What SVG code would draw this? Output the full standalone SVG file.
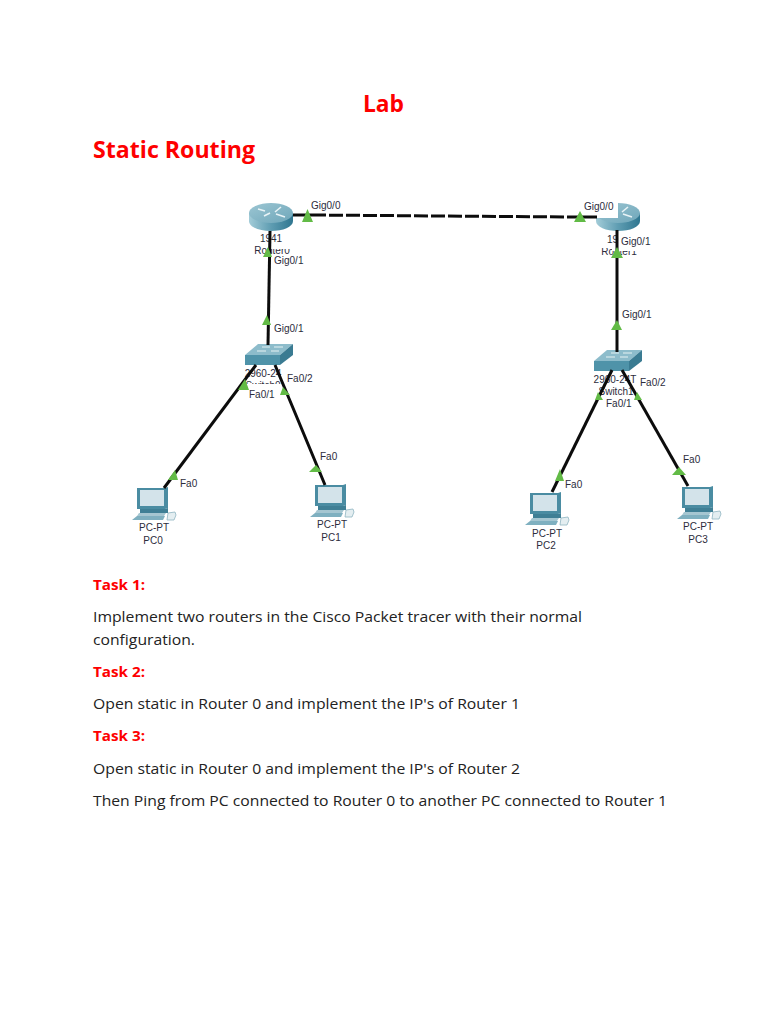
<svg xmlns="http://www.w3.org/2000/svg" width="768" height="1024" viewBox="0 0 768 1024">
<style>
.h{font-family:"Open Sans","Liberation Sans",sans-serif;font-weight:700;fill:#fe0000}
.b{font-family:"Open Sans","Liberation Sans",sans-serif;font-size:14.5px;fill:#222}
.t{font-size:14.5px}
.l{font-family:"Liberation Sans",Arial,sans-serif;font-size:10px;fill:#2c2c3c}
.m{text-anchor:middle}
.w{fill:none;stroke:#0c0c0c;stroke-width:3;stroke-linecap:butt;stroke-linejoin:round}
.a{fill:#62bb46}
</style>
<defs>
<linearGradient id="rg" x1="0" x2="1" y1="0" y2="0"><stop offset="0" stop-color="#a3ccd8"/><stop offset=".5" stop-color="#5f9db2"/><stop offset="1" stop-color="#2f7690"/></linearGradient>
<linearGradient id="rt" x1="0" x2="1" y1="0" y2="1"><stop offset="0" stop-color="#9cc6d3"/><stop offset="1" stop-color="#6ea6b9"/></linearGradient>
<clipPath id="c0"><rect x="240" y="240" width="28" height="20"/><rect x="268" y="249" width="30" height="10"/></clipPath>
<clipPath id="c1"><rect x="590" y="248" width="22" height="12"/><rect x="612" y="251" width="30" height="8"/></clipPath>
<clipPath id="s0"><rect x="240" y="378" width="50" height="6"/></clipPath>
<clipPath id="s1"><rect x="590" y="387" width="50" height="10"/></clipPath>
<symbol id="router" width="44" height="28" viewBox="0 0 44 28" overflow="visible">
<path d="M0 10V18C0 24 10 28 22 28S44 24 44 18V10Z" fill="url(#rg)"/>
<ellipse cx="22" cy="10" rx="22" ry="10" fill="url(#rt)"/>
<path d="M9 6l7 2M15 13l6-3M26 9l6-5M27 11l9 3" stroke="#e8f3f6" stroke-width="1.6" fill="none"/>
</symbol>
<symbol id="switch" width="48" height="21" viewBox="0 0 48 21" overflow="visible">
<path d="M13 0H48L35 11H0Z" fill="#8dbccb"/>
<path d="M0 11H35V21H0Z" fill="#4f93a9"/>
<path d="M35 11L48 0V11L35 21Z" fill="#3a7b92"/>
<path d="M17 3h8M29 3h9M12 7h9M26 7h8" stroke="#e6f1f4" stroke-width="1.2"/>
</symbol>
<symbol id="pc" width="46" height="34" viewBox="0 0 46 34" overflow="visible">
<path d="M0 1H28L31 0V21L28 22H0Z" fill="#4a8ca2"/>
<rect x="3" y="3" width="24" height="16" fill="#d3e3ea"/>
<path d="M3 22H28L31 21V26H3Z" fill="#3f7f95"/>
<path d="M2 26H29L27 29H0Z" fill="#a5c6d1"/>
<path d="M0 29H28L26 33H-5Z" fill="#7fb0c0"/>
<path d="M31 26l7-1 1 3-2 5h-7Z" fill="#e4eef1" stroke="#8fb5c1" stroke-width=".8"/>
</symbol>
</defs>

<text class="h" x="363" y="112" font-size="24" textLength="41" lengthAdjust="spacingAndGlyphs">Lab</text>
<text class="h" x="93" y="158" font-size="24" textLength="162" lengthAdjust="spacingAndGlyphs">Static Routing</text>

<g id="router0">
<use href="#router" x="249" y="203"/>
<text class="l m" x="271" y="242">1941</text>
<text class="l m" x="272" y="254" clip-path="url(#c0)">Router0</text>
<text class="l" x="311" y="209">Gig0/0</text>
<text class="l" x="274" y="264">Gig0/1</text>
</g>
<g id="router1">
<use href="#router" x="596" y="203"/>
<rect x="596" y="198" width="22" height="20" fill="#fff"/>
<text class="l" x="584" y="210">Gig0/0</text>
<text class="l" x="607" y="243">19</text>
<text class="l m" x="619" y="255" clip-path="url(#c1)">Router1</text>
<text class="l" x="621" y="245">Gig0/1</text>
</g>
<g id="switch0">
<use href="#switch" x="245" y="344"/>
<text class="l" x="274" y="332">Gig0/1</text>
<text class="l m" x="263" y="377">2960-24</text>
<text class="l m" x="263" y="389" clip-path="url(#s0)">Switch0</text>
<text class="l" x="287" y="382">Fa0/2</text>
<text class="l" x="249" y="398">Fa0/1</text>
</g>
<g id="switch1">
<use href="#switch" x="594" y="350"/>
<text class="l" x="622" y="318">Gig0/1</text>
<text class="l m" x="615" y="383">2960-24T</text>
<text class="l m" x="616" y="395" clip-path="url(#s1)">Switch1</text>
<text class="l" x="640" y="386">Fa0/2</text>
<text class="l" x="606" y="407">Fa0/1</text>
</g>
<g id="pc0">
<use href="#pc" x="137" y="487"/>
<text class="l" x="180" y="487">Fa0</text>
<text class="l m" x="154" y="531">PC-PT</text>
<text class="l m" x="153" y="544">PC0</text>
</g>
<g id="pc1">
<use href="#pc" x="315" y="484"/>
<text class="l" x="320" y="460">Fa0</text>
<text class="l m" x="332" y="528">PC-PT</text>
<text class="l m" x="331" y="541">PC1</text>
</g>
<g id="pc2">
<use href="#pc" x="530" y="492"/>
<text class="l" x="565" y="488">Fa0</text>
<text class="l m" x="547" y="537">PC-PT</text>
<text class="l m" x="546" y="549">PC2</text>
</g>
<g id="pc3">
<use href="#pc" x="682" y="486"/>
<text class="l" x="683" y="463">Fa0</text>
<text class="l m" x="698" y="530">PC-PT</text>
<text class="l m" x="698" y="543">PC3</text>
</g>

<g id="connectors">
<path class="w" d="M293 215H312"/>
<path class="w" d="M312 215L576 217" stroke-dasharray="14 3"/>
<path class="w" d="M576 217H597"/>
<path class="w" d="M270 231L268 345"/>
<path class="w" d="M617 230V352"/>
<path class="w" d="M256 365L164 488"/>
<path class="w" d="M275 365L293 408L325 485"/>
<path class="w" d="M612 370L552 492"/>
<path class="w" d="M622 370L688 486"/>
<g class="a">
<path d="M307.500 209L313 222H302Z"/>
<path d="M580 211L586 222H574Z"/>
<path d="M268 247L272 257H263Z"/>
<path d="M267 315L271 325H262Z"/>
<path d="M617 247L623 258H611Z"/>
<path d="M617 320L622 330H611Z"/>
<path d="M245 379L249 390H238Z"/>
<path d="M283 387L290 395H280Z"/>
<path d="M598 392L603 400H595Z"/>
<path d="M637 392L642 400H634Z"/>
<path d="M175 470L178 480H168Z"/>
<path d="M316 465L322 472H309Z"/>
<path d="M560 469L564 481H555Z"/>
<path d="M679 467L686 475H672Z"/>
</g>
</g>

<text class="h t" x="93" y="590" textLength="52" lengthAdjust="spacingAndGlyphs">Task 1:</text>
<text class="b" x="93" y="622" textLength="489" lengthAdjust="spacingAndGlyphs">Implement two routers in the Cisco Packet tracer with their normal</text>
<text class="b" x="93" y="645" textLength="102" lengthAdjust="spacingAndGlyphs">configuration.</text>
<text class="h t" x="93" y="677" textLength="52" lengthAdjust="spacingAndGlyphs">Task 2:</text>
<text class="b" x="93" y="709" textLength="427" lengthAdjust="spacingAndGlyphs">Open static in Router 0 and implement the IP's of Router 1</text>
<text class="h t" x="93" y="741" textLength="52" lengthAdjust="spacingAndGlyphs">Task 3:</text>
<text class="b" x="93" y="774" textLength="427" lengthAdjust="spacingAndGlyphs">Open static in Router 0 and implement the IP's of Router 2</text>
<text class="b" x="93" y="806" textLength="574" lengthAdjust="spacingAndGlyphs">Then Ping from PC connected to Router 0 to another PC connected to Router 1</text>
</svg>
